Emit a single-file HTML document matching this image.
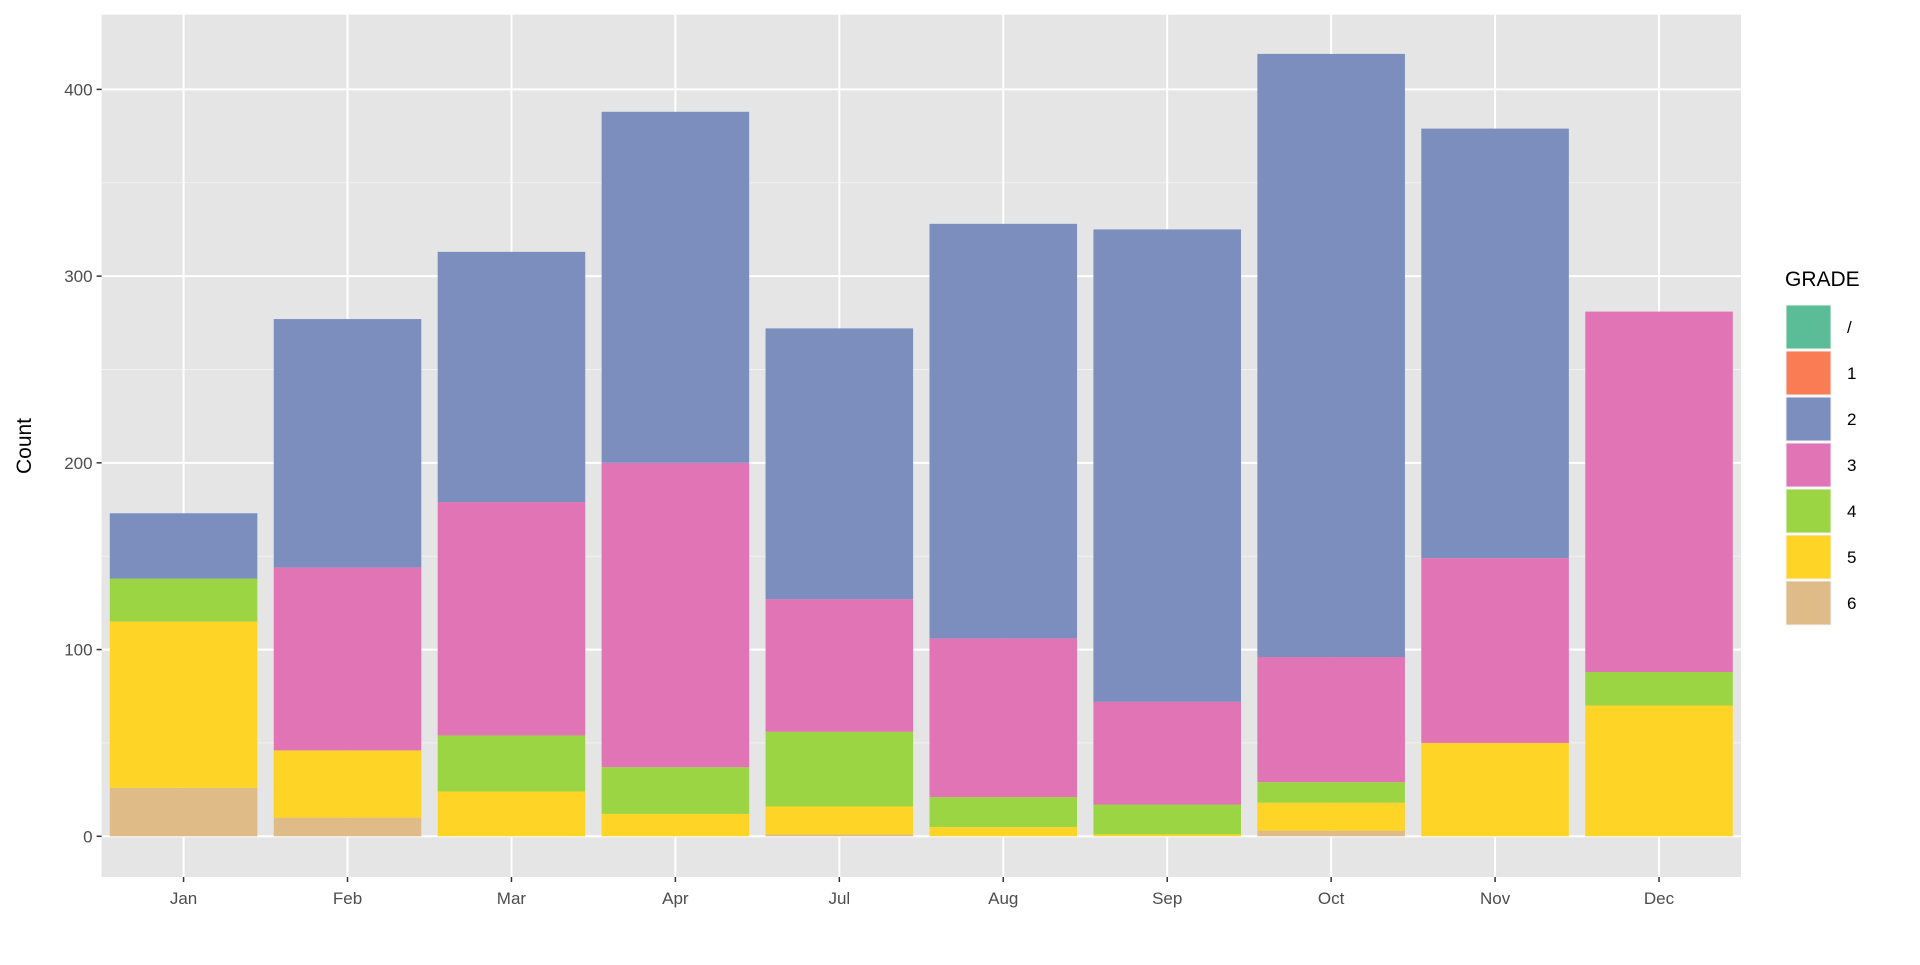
<!DOCTYPE html>
<html><head><meta charset="utf-8"><style>
body{margin:0;background:#fff;font-family:"Liberation Sans",Arial,sans-serif}
svg text{font-family:"Liberation Sans",Arial,sans-serif}
</style></head><body>
<svg id="chart" width="1920" height="960" xmlns="http://www.w3.org/2000/svg"></svg>
<script>
const months = ["Jan","Feb","Mar","Apr","Jul","Aug","Sep","Oct","Nov","Dec"];
const grades = ["/","1","2","3","4","5","6"];
const g6 = [26,10,0,0,1,0,0,3,0,0];
const g5 = [89,36,24,12,15,5,1,15,50,70];
const g4 = [23,0,30,25,40,16,16,11,0,18];
const g3 = [0,98,125,163,71,85,55,67,99,193];
const g2 = [35,133,134,188,145,222,253,323,230,0];
const g1 = [0,0,0,0,0,0,0,0,0,0];
const gSlash = [0,0,0,0,0,0,0,0,0,0];
const yTicks = [0,100,200,300,400];
const colors = {"/":"#5bbd97","1":"#fa7c55","2":"#7b8ebe","3":"#e074b5","4":"#9bd544","5":"#fed426","6":"#dfbb88"};

const svg=document.getElementById('chart');
const NS="http://www.w3.org/2000/svg";
function mk(t,a,p){const e=document.createElementNS(NS,t);for(const k in a)e.setAttribute(k,a[k]);(p||svg).appendChild(e);return e;}
const L=101.6,R=1741,T=14.7,B=877;
const y=v=>836.3-v*1.8673;
const step=(R-L)/months.length;
const x=i=>L+step*(i+0.5);
const bw=step*0.9;

const panel=mk('rect',{x:L,y:T,width:R-L,height:B-T,fill:'#e5e5e5'});


for(let v=-50;v<=450;v+=100){if(y(v)>T&&y(v)<B)mk('line',{x1:L,x2:R,y1:y(v),y2:y(v),stroke:'#f2f2f2','stroke-width':1});}
yTicks.forEach(v=>{
  mk('line',{x1:L,x2:R,y1:y(v),y2:y(v),stroke:'#fff','stroke-width':2});
  mk('line',{x1:L-5,x2:L,y1:y(v),y2:y(v),stroke:'#333','stroke-width':1.5});
  const t=mk('text',{x:L-9,y:y(v)+6,'text-anchor':'end','font-size':17,fill:'#4d4d4d'});t.textContent=v;
  
  
});
months.forEach((m,i)=>{
  mk('line',{x1:x(i),x2:x(i),y1:T,y2:B,stroke:'#fff','stroke-width':2});
  mk('line',{x1:x(i),x2:x(i),y1:B,y2:B+5,stroke:'#333','stroke-width':1.5});
  const t=mk('text',{x:x(i),y:B+27,'text-anchor':'middle','font-size':17,fill:'#4d4d4d'});t.textContent=m;
  
  
});
const series=[["6",g6],["5",g5],["4",g4],["3",g3],["2",g2],["1",g1],["/",gSlash]];
months.forEach((m,i)=>{
  let base=0;
  series.forEach(([g,arr])=>{
    const v=arr[i];if(v<=0)return;
    const r=mk('rect',{x:x(i)-bw/2,y:y(base+v),width:bw,height:y(base)-y(base+v),fill:colors[g]});
    
    
    base+=v;
  });
});
const yt=mk('text',{x:0,y:0,transform:'translate(31,446) rotate(-90)','text-anchor':'middle','font-size':21,fill:'#000'});yt.textContent='Count';


const lt=mk('text',{x:1785,y:286,'font-size':21,fill:'#000'});lt.textContent='GRADE';


grades.forEach((g,i)=>{
  const yy=305+i*46;
  const r=mk('rect',{x:1786,y:yy,width:45,height:44,fill:colors[g],stroke:'#f2f2f2','stroke-width':1});
  
  
  const t=mk('text',{x:1847,y:yy+28,'font-size':17,fill:'#000'});t.textContent=g;
  
  
});
</script>
</body></html>
